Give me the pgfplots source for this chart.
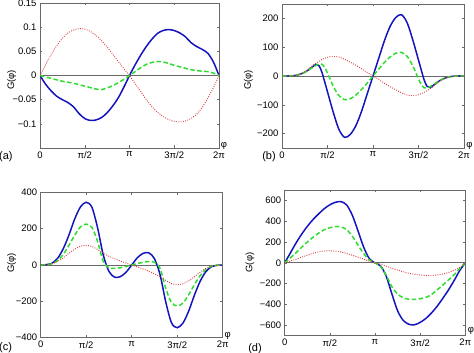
\documentclass[border=0pt]{standalone}
\usepackage{pgfplots}
\pgfplotsset{compat=1.18}
\usepackage{fontspec}
\setmainfont{Liberation Sans}
\definecolor{cblue}{RGB}{20,20,190}
\definecolor{cgreen}{RGB}{45,220,45}
\definecolor{cred}{RGB}{220,60,60}
\definecolor{cgray}{RGB}{105,105,105}
\pgfplotsset{
  myax/.style={scale only axis, anchor=south west,
    xmin=0, xmax=2, xtick={0,0.5,1,1.5,2},
    xticklabels={0,π/2,π,3π/2,2π},
    tick align=inside, major tick length=2.5bp,
    axis line style={cgray, line width=0.6pt},
    tick style={cgray, line width=0.5pt},
    ticklabel style={font=\fontsize{9.5}{11}\selectfont, text=black},
    /pgf/number format/assume math mode=true,
    clip=true},
  zl/.style={cgray, line width=0.9pt},
  bl/.style={cblue, line width=1.5pt, smooth},
  gr/.style={cgreen, line width=1.5pt, smooth, dash pattern=on 4.5pt off 2.5pt},
  rd/.style={cred, line width=0.9pt, smooth, dash pattern=on 0.9pt off 1.4pt},
}
\begin{document}
\begin{tikzpicture}
\useasboundingbox (0,0) rectangle (474bp,353bp);
% (a)
\begin{axis}[myax, at={(40bp,205bp)}, width=179bp, height=145bp,
  ymin=-0.15, ymax=0.15, ytick={-0.1,-0.05,0,0.05,0.1,0.15},
  yticklabels={−0.1,−0.05,0,0.05,0.1,0.15}]
\addplot[zl] coordinates {(0,0) (2,0)};
\addplot[bl] coordinates {(0,0) (0.0625,-0.018) (0.125,-0.032) (0.1875,-0.043) (0.25,-0.050) (0.3125,-0.056) (0.375,-0.065) (0.4375,-0.079) (0.5,-0.089) (0.5625,-0.093) (0.625,-0.092) (0.6875,-0.087) (0.75,-0.077) (0.8125,-0.063) (0.875,-0.046) (0.9375,-0.024) (1,0) (1.0625,0.022) (1.125,0.042) (1.1875,0.060) (1.25,0.075) (1.3125,0.087) (1.375,0.093) (1.4375,0.095) (1.5,0.093) (1.5625,0.088) (1.625,0.080) (1.6875,0.068) (1.75,0.060) (1.8125,0.054) (1.875,0.046) (1.9375,0.028) (2,0)};
\addplot[gr] coordinates {(0,0) (0.0625,-0.003) (0.125,-0.006) (0.1875,-0.009) (0.25,-0.012) (0.3125,-0.014) (0.375,-0.016) (0.4375,-0.019) (0.5,-0.022) (0.5625,-0.025) (0.625,-0.028) (0.6875,-0.029) (0.75,-0.026) (0.8125,-0.021) (0.875,-0.015) (0.9375,-0.008) (1,0) (1.0625,0.008) (1.125,0.016) (1.1875,0.023) (1.25,0.027) (1.3125,0.029) (1.375,0.028) (1.4375,0.025) (1.5,0.021) (1.5625,0.018) (1.625,0.015) (1.6875,0.012) (1.75,0.010) (1.8125,0.009) (1.875,0.008) (1.9375,0.005) (2,0)};
\addplot[rd] coordinates {(0,0) (0.0625,0.022) (0.125,0.043) (0.1875,0.062) (0.25,0.077) (0.3125,0.088) (0.375,0.094) (0.4375,0.097) (0.5,0.096) (0.5625,0.091) (0.625,0.083) (0.6875,0.072) (0.75,0.059) (0.8125,0.044) (0.875,0.029) (0.9375,0.014) (1,0) (1.0625,-0.017) (1.125,-0.033) (1.1875,-0.050) (1.25,-0.064) (1.3125,-0.076) (1.375,-0.085) (1.4375,-0.091) (1.5,-0.095) (1.5625,-0.096) (1.625,-0.094) (1.6875,-0.089) (1.75,-0.080) (1.8125,-0.066) (1.875,-0.047) (1.9375,-0.025) (2,0)};
\end{axis}
% (b)
\begin{axis}[myax, at={(282bp,205bp)}, width=182bp, height=144bp,
  ymin=-250, ymax=250, ytick={-200,-100,0,100,200},
  yticklabels={−200,−100,0,100,200}]
\addplot[zl] coordinates {(0,0) (2,0)};
\addplot[bl] coordinates {(0,0) (0.0625,0) (0.125,1) (0.1875,5) (0.25,13) (0.3125,26) (0.34375,34) (0.375,40) (0.40625,36) (0.4375,14) (0.46875,-20) (0.5,-55) (0.5625,-125) (0.625,-185) (0.6875,-213) (0.75,-203) (0.8125,-172) (0.875,-122) (0.9375,-61) (1,0) (1.0625,61) (1.125,122) (1.1875,172) (1.25,203) (1.3125,213) (1.375,185) (1.4375,125) (1.5,55) (1.53125,20) (1.5625,-14) (1.59375,-36) (1.625,-40) (1.65625,-34) (1.6875,-26) (1.75,-13) (1.8125,-5) (1.875,-1) (1.9375,0) (2,0)};
\addplot[gr] coordinates {(0,0) (0.0625,0) (0.125,1) (0.1875,5) (0.25,13) (0.3125,25) (0.375,37) (0.40625,42) (0.4375,41) (0.46875,30) (0.5,10) (0.5625,-35) (0.625,-68) (0.6875,-82) (0.75,-79) (0.8125,-66) (0.875,-47) (0.9375,-24) (1,0) (1.0625,24) (1.125,47) (1.1875,66) (1.25,79) (1.3125,82) (1.375,68) (1.4375,35) (1.5,-10) (1.53125,-30) (1.5625,-41) (1.59375,-42) (1.625,-37) (1.6875,-25) (1.75,-13) (1.8125,-5) (1.875,-1) (1.9375,0) (2,0)};
\addplot[rd] coordinates {(0,0) (0.0625,0) (0.125,1) (0.1875,5) (0.25,15) (0.3125,30) (0.375,45) (0.4375,57) (0.5,65) (0.5625,68) (0.625,66) (0.6875,58) (0.75,48) (0.8125,37) (0.875,25) (0.9375,12) (1,0) (1.0625,-12) (1.125,-25) (1.1875,-37) (1.25,-48) (1.3125,-58) (1.375,-66) (1.4375,-68) (1.5,-65) (1.5625,-57) (1.625,-45) (1.6875,-30) (1.75,-15) (1.8125,-5) (1.875,-1) (1.9375,0) (2,0)};
\end{axis}
% (c)
\begin{axis}[myax, at={(40.7bp,15.3bp)}, width=182bp, height=145.4bp,
  ymin=-400, ymax=400, ytick={-400,-200,0,200,400},
  yticklabels={−400,−200,0,200,400}]
\addplot[zl] coordinates {(0,0) (2,0)};
\addplot[bl] coordinates {(0,0) (0.0625,2) (0.125,10) (0.1875,38) (0.25,92) (0.3125,168) (0.375,255) (0.4375,320) (0.5,345) (0.5625,318) (0.625,205) (0.6875,55) (0.75,-35) (0.8125,-67) (0.875,-64) (0.9375,-40) (1,0) (1.0625,40) (1.125,64) (1.1875,67) (1.25,35) (1.3125,-55) (1.375,-205) (1.4375,-318) (1.5,-345) (1.5625,-320) (1.625,-255) (1.6875,-168) (1.75,-92) (1.8125,-38) (1.875,-10) (1.9375,-2) (2,0)};
\addplot[gr] coordinates {(0,0) (0.0625,1) (0.125,7) (0.1875,25) (0.25,60) (0.3125,110) (0.375,165) (0.4375,210) (0.5,225) (0.5625,207) (0.625,130) (0.6875,20) (0.75,-15) (0.8125,-19) (0.875,-15) (0.9375,-8) (1,0) (1.0625,8) (1.125,15) (1.1875,19) (1.25,15) (1.3125,-20) (1.375,-130) (1.4375,-207) (1.5,-225) (1.5625,-210) (1.625,-165) (1.6875,-110) (1.75,-60) (1.8125,-25) (1.875,-7) (1.9375,-1) (2,0)};
\addplot[rd] coordinates {(0,0) (0.0625,1) (0.125,7) (0.1875,20) (0.25,40) (0.3125,65) (0.375,88) (0.4375,103) (0.5,108) (0.5625,102) (0.625,85) (0.6875,66) (0.75,48) (0.8125,35) (0.875,22) (0.9375,11) (1,0) (1.0625,-11) (1.125,-22) (1.1875,-35) (1.25,-48) (1.3125,-66) (1.375,-85) (1.4375,-102) (1.5,-108) (1.5625,-103) (1.625,-88) (1.6875,-65) (1.75,-40) (1.8125,-20) (1.875,-7) (1.9375,-1) (2,0)};
\end{axis}
% (d)
\begin{axis}[myax, at={(284.7bp,17.3bp)}, width=180.6bp, height=145.7bp,
  ymin=-700, ymax=700, ytick={-600,-400,-200,0,200,400,600},
  yticklabels={−600,−400,−200,0,200,400,600}]
\addplot[zl] coordinates {(0,0) (2,0)};
\addplot[bl] coordinates {(0,0) (0.0625,95) (0.125,190) (0.1875,275) (0.25,350) (0.3125,415) (0.375,470) (0.4375,520) (0.5,558) (0.5625,582) (0.625,588) (0.6875,555) (0.75,455) (0.8125,305) (0.875,150) (0.9375,40) (1,0) (1.0625,-30) (1.125,-130) (1.1875,-300) (1.25,-460) (1.3125,-553) (1.375,-590) (1.4375,-595) (1.5,-572) (1.5625,-535) (1.625,-482) (1.6875,-418) (1.75,-342) (1.8125,-262) (1.875,-172) (1.9375,-75) (2,0)};
\addplot[gr] coordinates {(0,0) (0.0625,48) (0.125,97) (0.1875,150) (0.25,200) (0.3125,245) (0.375,285) (0.4375,318) (0.5,338) (0.5625,348) (0.625,345) (0.6875,318) (0.75,255) (0.8125,170) (0.875,88) (0.9375,28) (1,0) (1.0625,-35) (1.125,-120) (1.1875,-230) (1.25,-300) (1.3125,-335) (1.375,-350) (1.4375,-352) (1.5,-345) (1.5625,-332) (1.625,-305) (1.6875,-260) (1.75,-215) (1.8125,-165) (1.875,-115) (1.9375,-55) (2,0)};
\addplot[rd] coordinates {(0,0) (0.0625,17) (0.125,35) (0.1875,55) (0.25,73) (0.3125,92) (0.375,106) (0.4375,114) (0.5,116) (0.5625,113) (0.625,104) (0.6875,90) (0.75,73) (0.8125,54) (0.875,35) (0.9375,16) (1,0) (1.0625,-12) (1.125,-32) (1.1875,-52) (1.25,-70) (1.3125,-86) (1.375,-100) (1.4375,-110) (1.5,-117) (1.5625,-121) (1.625,-121) (1.6875,-117) (1.75,-107) (1.8125,-93) (1.875,-72) (1.9375,-45) (2,0)};
\end{axis}
% labels
\begin{scope}[font=\fontsize{9.5}{11}\selectfont]
\node[rotate=90] at (11.7bp,273bp) {G(φ)};
\node[rotate=90] at (248.5bp,273bp) {G(φ)};
\node[rotate=90] at (11.7bp,90bp) {G(φ)};
\node[rotate=90] at (250bp,90.5bp) {G(φ)};
\node at (224bp,207bp) {φ};
\node at (469.5bp,207bp) {φ};
\node at (227.7bp,17.3bp) {φ};
\node at (471bp,22bp) {φ};
\end{scope}
\begin{scope}[font=\fontsize{11}{13}\selectfont]
\node[anchor=west, inner sep=0pt] at (-1bp,196bp) {(a)};
\node at (269bp,196bp) {(b)};
\node[anchor=west, inner sep=0pt] at (-1bp,5bp) {(c)};
\node at (255bp,4.5bp) {(d)};
\end{scope}
\end{tikzpicture}
\end{document}
